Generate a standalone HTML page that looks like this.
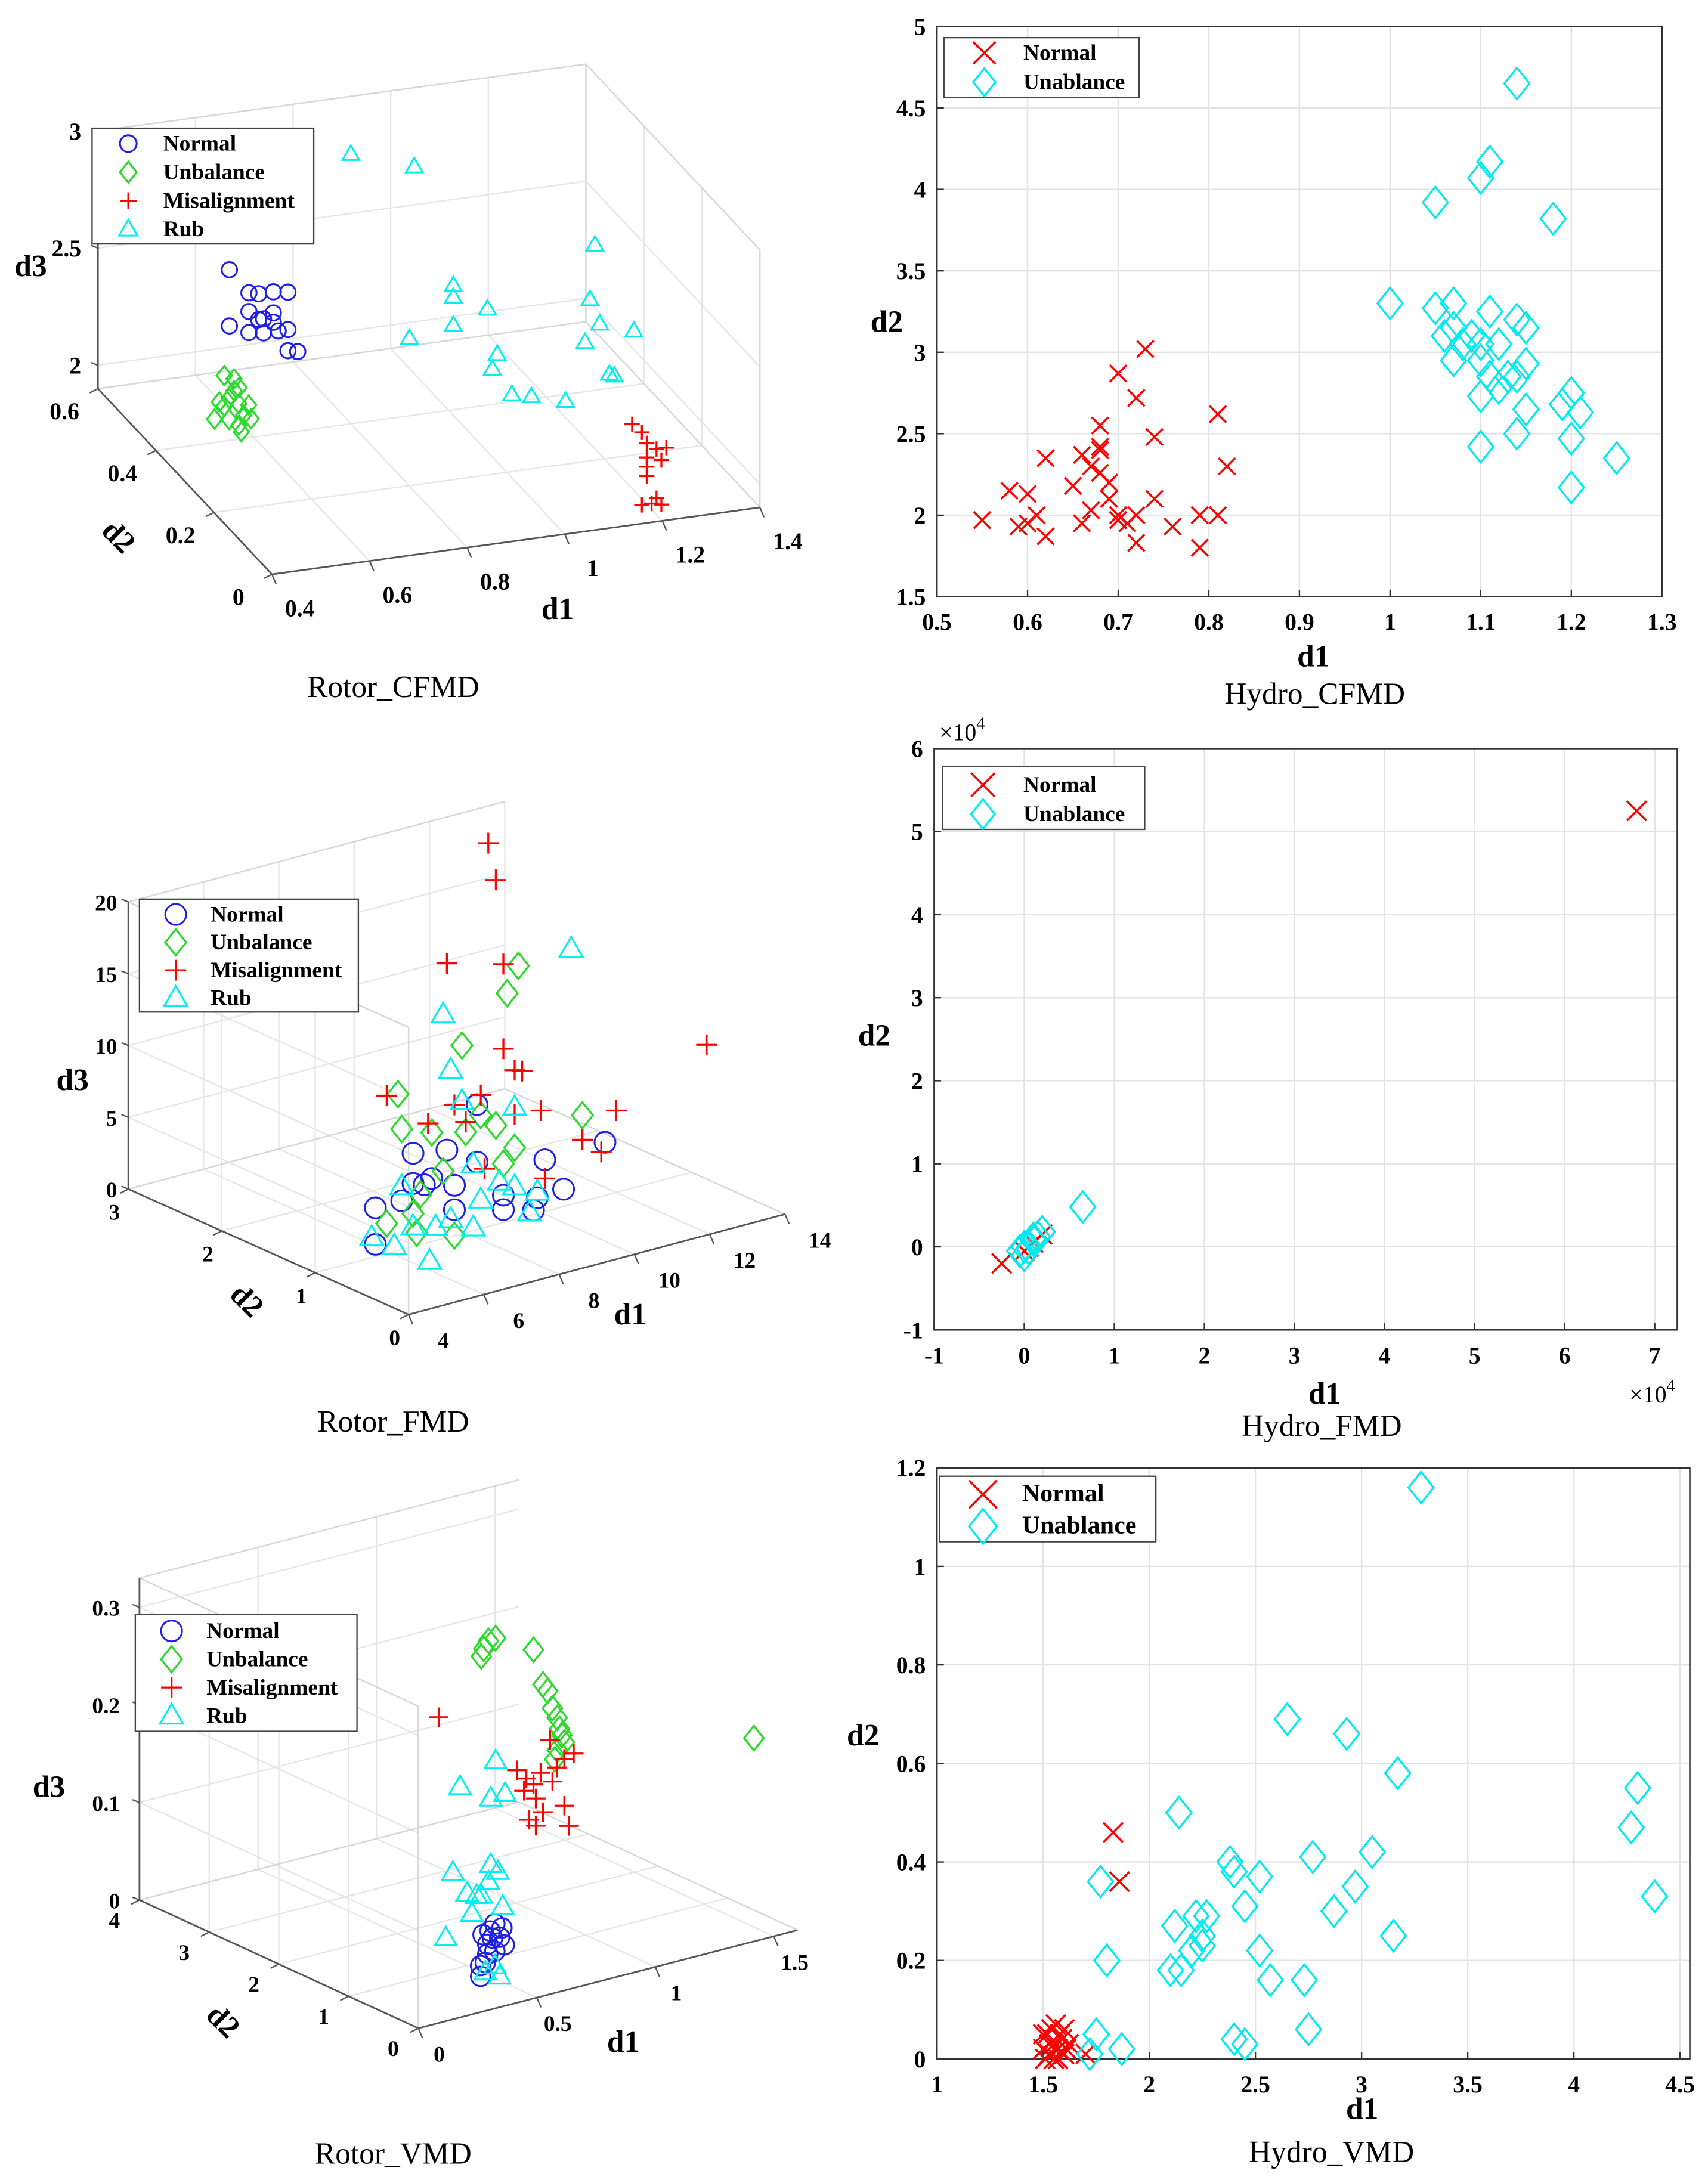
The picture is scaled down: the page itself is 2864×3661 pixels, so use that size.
<!DOCTYPE html>
<html><head><meta charset="utf-8">
<style>
html,body{margin:0;padding:0;background:#fff;}
svg{display:block;}
svg text{font-family:"Liberation Serif","Times New Roman",serif;}
</style></head>
<body>
<svg id="root" width="2864" height="3661" viewBox="0 0 1225 1566" font-family="Liberation Serif, serif" xmlns="http://www.w3.org/2000/svg">
<rect width="1225" height="1566" fill="#fff"/>
</svg>
<script>
// ---------- DATA ----------
const cfmdNormal=[[.61,.5,2.48],[.65,.5,2.37],[.67,.5,2.36],[.70,.5,2.36],[.73,.5,2.35],[.61,.5,2.24],[.65,.5,2.20],[.67,.5,2.25],[.68,.5,2.25],[.70,.5,2.27],[.71,.5,2.19],[.73,.5,2.19],[.73,.5,2.10],[.75,.5,2.09],[.68,.5,2.19],[.65,.5,2.29],[.70,.5,2.23]];
const cfmdUnbal=[[.54,.4,2.18],[.56,.4,2.16],[.57,.4,2.12],[.55,.4,2.08],[.54,.4,2.05],[.52,.4,2.00],[.57,.4,2.05],[.58,.4,2.00],[.57,.4,1.96],[.59,.4,2.04],[.55,.4,1.99],[.575,.4,1.93],[.595,.4,1.98],[.53,.4,2.07],[.56,.4,2.11]];
const cfmdMis=[[1.15,.02,2.30],[1.17,.02,2.26],[1.18,.02,2.21],[1.20,.02,2.18],[1.22,.02,2.18],[1.18,.02,2.15],[1.21,.02,2.13],[1.18,.02,2.11],[1.17,.02,1.95],[1.19,.02,1.95],[1.21,.02,1.94],[1.20,.02,1.97],[1.18,.02,2.07]];
const cfmdRub=[[.74,.3,3.20],[.87,.3,3.11],[1.24,.3,2.67],[.95,.3,2.58],[.95,.3,2.53],[1.02,.3,2.46],[.86,.3,2.38],[.95,.3,2.41],[1.23,.3,2.44],[1.25,.3,2.33],[1.32,.3,2.28],[1.22,.3,2.26],[1.03,.3,2.20],[1.04,.3,2.26],[1.27,.3,2.11],[1.07,.3,2.08],[1.11,.3,2.06],[1.18,.3,2.02],[1.28,.3,2.10]];
const fmdNormal=[[5.6,1,.86],[5.6,1,3.4],[6.3,1,3.4],[6.6,1,4.4],[6.6,1,6.5],[6.9,1,4.1],[7.5,1,6.1],[7.7,1,3.5],[7.7,1,1.8],[8.3,1,4.7],[9.0,1,.9],[9.0,1,1.9],[9.9,1,1.1],[9.8,1,.3],[10.1,1,3.6],[10.6,1,1.2],[11.7,1,3.7],[8.3,1,8.7],[7.1,1,4.4]];
const fmdUnbal=[[9.4,1,17.6],[9.1,1,15.9],[7.9,1,13.1],[6.2,1,10.9],[6.3,1,8.4],[7.1,1,7.6],[7.4,1,4.7],[6.8,1,3.5],[5.9,1,2.1],[6.7,1,.9],[7.7,1,0],[8.0,1,7.0],[8.8,1,6.9],[9.3,1,5.0],[11.1,1,6.0],[9.0,1,4.1],[8.4,1,7.9],[6.6,1,2.3]];
const fmdMis=[[8.6,1,26.7],[8.8,1,24],[7.5,1,19.1],[9.0,1,18],[14.4,1,8.6],[9.0,1,12.1],[9.3,1,10.4],[9.5,1,10.2],[5.9,1,11],[7.7,1,9.1],[8.0,1,7.7],[8.4,1,9.3],[10.0,1,7.1],[12.0,1,5.7],[11.1,1,4.3],[11.6,1,3.1],[8.5,1,4.1],[10.1,1,2.3],[7.0,1,8.3],[9.3,1,7.3]];
const fmdRub=[[10.8,1,17.8],[7.4,1,15.6],[7.6,1,11.6],[7.9,1,9.2],[9.3,1,7.8],[9.3,1,2.3],[8.9,1,2.9],[8.4,1,2.0],[8.2,1,.2],[7.2,1,.95],[6.6,1,1.4],[6.1,1,.4],[5.5,1,1.4],[5.8,.5,1.0],[7.6,1,1.2],[9.7,1,.2],[9.9,1,1.5],[6.3,1,4.4],[8.2,1,4.6]];
const vmdNormal=[[.41,.5,.011],[.43,.5,.024],[.44,.5,.042],[.45,.5,.055],[.47,.5,.061],[.49,.5,.046],[.50,.5,.055],[.44,.5,.032],[.47,.5,.033],[.41,.5,.022],[.51,.5,.037],[.42,.5,.053],[.46,.5,.047]];
const vmdUnbal=[[.57,1,.32],[.59,1,.327],[.62,1,.328],[.78,1,.306],[.82,1,.268],[.84,1,.26],[.86,1,.241],[.88,1,.23],[.89,1,.218],[.90,1,.211],[.88,1,.197],[.87,1,.188],[.91,1,.203],[1.71,1,.157],[.56,1,.313]];
const vmdMis=[[.38,1,.262],[.71,1,.187],[.75,1,.176],[.78,1,.168],[.81,1,.178],[.86,1,.166],[.88,1,.179],[.91,1,.186],[.95,1,.189],[.79,1,.153],[.82,1,.137],[.76,1,.133],[.79,1,.125],[.91,1,.138],[.93,1,.116],[.85,1,.209],[.74,1,.164]];
const vmdRub=[[.47,1,.185],[.62,1,.202],[.60,1,.165],[.66,1,.166],[.44,1,.099],[.50,1,.074],[.54,1,.069],[.59,1,.080],[.63,1,.088],[.60,1,.097],[.65,1,.051],[.41,1,.034],[.52,1,.052],[.47,.5,.018],[.49,.5,.006],[.43,.5,.014],[.56,1,.068]];
const hcNormalX=[.55,.58,.59,.60,.60,.61,.62,.62,.65,.66,.66,.67,.68,.68,.68,.68,.69,.69,.70,.70,.71,.72,.72,.72,.73,.74,.74,.76,.79,.79,.81,.81,.82,.70,.67];
const hcNormalY=[1.97,2.15,1.93,1.95,2.13,2.0,1.87,2.35,2.18,2.37,1.95,2.03,2.55,2.42,2.4,2.26,2.1,2.2,2.87,2.0,1.95,2.0,1.83,2.72,3.02,2.48,2.1,1.93,2.0,1.8,2.62,2.0,2.3,1.97,2.3];
const hcUnbX=[1.0,1.05,1.05,1.06,1.07,1.07,1.07,1.08,1.09,1.10,1.11,1.10,1.10,1.10,1.11,1.11,1.12,1.13,1.14,1.14,1.14,1.14,1.15,1.15,1.15,1.18,1.19,1.20,1.20,1.20,1.21,1.25,1.12,1.10];
const hcUnbY=[3.3,3.92,3.27,3.1,3.3,3.15,2.95,3.05,3.1,4.07,4.17,2.73,2.42,2.95,2.85,3.25,2.78,2.85,4.65,3.2,2.85,2.5,3.15,2.93,2.65,3.82,2.68,2.47,2.17,2.75,2.63,2.35,3.05,3.05];
const hfNormalX=[6.8,-0.25,0,0.1,0.2,0.05];
const hfNormalY=[5.25,-0.2,-0.05,0.05,0.15,0];
const hfUnbX=[0.65,0.2,0.15,0.1,0,-0.05,0.05,0.1,0.0];
const hfUnbY=[0.48,0.18,0.12,0.08,0,-0.05,-0.02,0.1,-0.1];
const hvNormalX=[1.5,1.52,1.53,1.55,1.56,1.57,1.58,1.6,1.62,1.51,1.54,1.59,1.5,1.55,1.6,1.53,1.57,1.61,1.83,1.86,1.7];
const hvNormalY=[.02,.05,.01,.03,.07,.02,.05,.01,.03,0,.06,.04,.05,0,.06,.03,0,.02,.46,.36,.01];
const hvUnbX=[1.75,1.72,1.77,1.8,1.87,2.12,2.14,2.1,2.15,2.2,2.22,2.25,2.27,2.25,2.38,2.4,2.4,2.45,2.45,2.52,2.52,2.57,2.65,2.73,2.77,2.75,2.87,2.93,2.97,3.05,3.15,3.17,3.28,4.27,4.3,4.38];
const hvUnbY=[.05,.01,.36,.2,.02,.27,.5,.18,.18,.22,.29,.25,.29,.23,.4,.38,.04,.31,.03,.37,.22,.16,.69,.16,.41,.06,.3,.66,.35,.42,.25,.58,1.16,.47,.55,.33];

// ---------- DRAW HELPERS ----------
const NS="http://www.w3.org/2000/svg";
const root=document.getElementById('root');
function mk(tag,attrs,parent){const e=document.createElementNS(NS,tag);for(const k in attrs)e.setAttribute(k,attrs[k]);(parent||root).appendChild(e);return e;}
function txt(s,x,y,size,parent,opt){opt=opt||{};const t=mk('text',{x:x,y:y,'font-size':size,'font-family':'Liberation Serif, serif','font-weight':opt.bold?'bold':'normal','text-anchor':opt.anchor||'middle',fill:'#000'},parent);if(opt.transform)t.setAttribute('transform',opt.transform);t.textContent=s;return t;}
const COL={blue:'#1f1fe6',green:'#2fd82f',red:'#ff0000',cyan:'#00f0f0'};
function marker(g,type,x,y,s,color){
  let e;
  if(type==='o'){e=mk('circle',{cx:x,cy:y,r:s,fill:'none',stroke:color,'stroke-width':1.3},g);}
  else if(type==='d'){e=mk('polygon',{points:`${x},${y-s*1.25} ${x+s},${y} ${x},${y+s*1.25} ${x-s},${y}`,fill:'none',stroke:color,'stroke-width':1.4},g);}
  else if(type==='+'){e=mk('path',{d:`M${x-s},${y}H${x+s}M${x},${y-s}V${y+s}`,fill:'none',stroke:color,'stroke-width':1.4},g);}
  else if(type==='x'){e=mk('path',{d:`M${x-s},${y-s}L${x+s},${y+s}M${x+s},${y-s}L${x-s},${y+s}`,fill:'none',stroke:color,'stroke-width':1.5},g);}
  else {e=mk('polygon',{points:`${x},${y-s*1.15} ${x+s*1.1},${y+s*0.75} ${x-s*1.1},${y+s*0.75}`,fill:'none',stroke:color,'stroke-width':1.3},g);}
  return e;
}
function legend(g,x,y,w,h,entries,size,mx,tx,fs){
  const r=mk('rect',{x:x,y:y,width:w,height:h,fill:'#fff',stroke:'#444','stroke-width':1},g);
  
  
  entries.forEach(en=>{
    const eg=mk('g',{},g);
    
    
    marker(eg,en.type,mx,en.y,size,en.color);
    txt(en.label,tx,en.y+5,fs,eg,{bold:true,anchor:'start'});
  });
}

// ---------- 3D ----------
function chart3d(cfg){
  const g=mk('g',{});
  
  
  const P=(d1,d2,d3)=>[cfg.O[0]+(d1-cfg.x0)*cfg.a[0]+d2*cfg.b[0]+(d3-cfg.z0)*cfg.c[0], cfg.O[1]+(d1-cfg.x0)*cfg.a[1]+d2*cfg.b[1]+(d3-cfg.z0)*cfg.c[1]];
  const line=(p,q,col,w)=>mk('line',{x1:p[0],y1:p[1],x2:q[0],y2:q[1],stroke:col,'stroke-width':w},g);
  const gc='#e6e6e6';
  const {x0,x1,y1,z0,z1}=cfg;
  cfg.xt.forEach(v=>line(P(v,0,z0),P(v,y1,z0),gc,1));
  cfg.yt.forEach(v=>line(P(x0,v,z0),P(x1,v,z0),gc,1));
  cfg.xt.forEach(v=>line(P(v,y1,z0),P(v,y1,z1),gc,1));
  cfg.zt.forEach(v=>line(P(x0,y1,v),P(x1,y1,v),gc,1));
  const wx=cfg.wallX;
  cfg.yt.forEach(v=>line(P(wx,v,z0),P(wx,v,z1),gc,1));
  cfg.zt.forEach(v=>line(P(wx,0,v),P(wx,y1,v),gc,1));
  const ec='#d6d6d6';
  line(P(x0,y1,z0),P(x1,y1,z0),ec,1);line(P(x1,0,z0),P(x1,y1,z0),ec,1);
  line(P(wx,0,z0),P(wx,0,z1),ec,1);line(P(wx,y1,z0),P(wx,y1,z1),ec,1);
  line(P(x0,y1,z1),P(x1,y1,z1),ec,1);line(P(wx,0,z1),P(wx,y1,z1),ec,1);
  const ac='#555';
  line(P(x0,0,z0),P(x1,0,z0),ac,1.2);
  line(P(x0,0,z0),P(x0,y1,z0),ac,1.2);
  line(P(x0,y1,z0),P(x0,y1,z1),ac,1.2);
  cfg.xt.forEach((v,i)=>{const p=P(v,0,z0);line(p,[p[0]+3,p[1]+7],ac,1);txt(cfg.xl[i],p[0]+cfg.xo[0],p[1]+cfg.xo[1],cfg.fs,g,{bold:true});});
  cfg.yt.forEach((v,i)=>{const p=P(x0,v,z0);line(p,[p[0]-6,p[1]+3],ac,1);txt(cfg.yl[i],p[0]+cfg.yo[0],p[1]+cfg.yo[1],cfg.fs,g,{bold:true});});
  cfg.zt.forEach((v,i)=>{const p=P(x0,y1,v);line(p,[p[0]-5,p[1]-2],ac,1);txt(cfg.zl[i],p[0]+cfg.zo[0],p[1]+cfg.zo[1],cfg.fs,g,{bold:true,anchor:'end'});});
  txt('d1',cfg.t1[0],cfg.t1[1],22,g,{bold:true});
  txt('d2',cfg.t2[0],cfg.t2[1],22,g,{bold:true,transform:`rotate(45 ${cfg.t2[0]} ${cfg.t2[1]})`});
  txt('d3',cfg.t3[0],cfg.t3[1],22,g,{bold:true});
  cfg.series.forEach(s=>{
    const sg=mk('g',{},g);
    
    
    s.data.forEach(d=>{const p=P(d[0],d[1],d[2]);const m=marker(sg,s.type,p[0],p[1],cfg.ms,s.color);
      
      });
  });
  legend(g,cfg.lg[0],cfg.lg[1],cfg.lg[2],cfg.lg[3],cfg.series.map((s,i)=>({type:s.type,color:s.color,label:s.label,y:cfg.lg[4]+i*cfg.lg[5]})),cfg.lms,cfg.lg[6],cfg.lg[7],16);
  txt(cfg.title,cfg.tt[0],cfg.tt[1],22,g);
}
const ser=(n,u,m,r)=>[{label:'Normal',type:'o',color:COL.blue,data:n},{label:'Unbalance',type:'d',color:COL.green,data:u},{label:'Misalignment',type:'+',color:COL.red,data:m},{label:'Rub',type:'t',color:COL.cyan,data:r}];
chart3d({name:'rotor-cfmd-chart',O:[195,412],a:[350,-48],b:[-208,-222],c:[0,-168],x0:.4,x1:1.4,y1:.6,z0:1.9,z1:3.0,wallX:1.4,
  xt:[.4,.6,.8,1,1.2,1.4],xl:['0.4','0.6','0.8','1','1.2','1.4'],xo:[20,30],
  yt:[0,.2,.4,.6],yl:['0','0.2','0.4','0.6'],yo:[-24,22],
  zt:[2,2.5,3],zl:['2','2.5','3'],zo:[-12,6],fs:17,ms:5.5,lms:6,
  t1:[400,444],t2:[80,390],t3:[22,198],tt:[282,500],title:'Rotor_CFMD',
  lg:[66,92,159,83,103,20.5,92,117],series:ser(cfmdNormal,cfmdUnbal,cfmdMis,cfmdRub)});
chart3d({name:'rotor-fmd-chart',O:[293,943],a:[27,-7.2],b:[-67,-30],c:[0,-10.3],x0:4,x1:14,y1:3,z0:0,z1:20,wallX:4,
  xt:[4,6,8,10,12,14],xl:['4','6','8','10','12','14'],xo:[25,24],
  yt:[0,1,2,3],yl:['0','1','2','3'],yo:[-10,22],
  zt:[0,5,10,15,20],zl:['0','5','10','15','20'],zo:[-8,6],fs:16,ms:7.5,lms:7.5,
  t1:[452,950],t2:[172,938],t3:[52,782],tt:[282,1027],title:'Rotor_FMD',
  lg:[100,645,157,81,656,20,126,151],series:ser(fmdNormal,fmdUnbal,fmdMis,fmdRub)});
chart3d({name:'rotor-vmd-chart',O:[300,1455],a:[170,-44],b:[-50,-23],c:[0,-700],x0:0,x1:1.6,y1:4,z0:0,z1:.33,wallX:0,
  xt:[0,.5,1,1.5],xl:['0','0.5','1','1.5'],xo:[15,24],
  yt:[0,1,2,3,4],yl:['0','1','2','3','4'],yo:[-18,20],
  zt:[0,.1,.2,.3],zl:['0','0.1','0.2','0.3'],zo:[-14,6],fs:16,ms:7,lms:7.5,
  t1:[447,1472],t2:[155,1455],t3:[35,1289],tt:[282,1552],title:'Rotor_VMD',
  lg:[97,1158,159,84,1170,20.3,123,148],series:ser(vmdNormal,vmdUnbal,vmdMis,vmdRub)});

// ---------- 2D ----------
function chart2d(cfg){
  const g=mk('g',{});
  
  
  const X=v=>cfg.L+(v-cfg.xmin)/(cfg.xmax-cfg.xmin)*(cfg.R-cfg.L);
  const Y=v=>cfg.B-(v-cfg.ymin)/(cfg.ymax-cfg.ymin)*(cfg.B-cfg.T);
  const grid=mk('g',{},g);
  
  
  cfg.xt.forEach((v,i)=>{const x=X(v);mk('line',{x1:x,y1:cfg.T,x2:x,y2:cfg.B,stroke:'#e3e3e3','stroke-width':1},grid);
    mk('line',{x1:x,y1:cfg.B,x2:x,y2:cfg.B-5,stroke:'#333','stroke-width':1},g);
    const t=txt(cfg.xl[i],x,cfg.B+24,17,g,{bold:true});});
  cfg.yt.forEach((v,i)=>{const y=Y(v);mk('line',{x1:cfg.L,y1:y,x2:cfg.R,y2:y,stroke:'#e3e3e3','stroke-width':1},grid);
    mk('line',{x1:cfg.L,y1:y,x2:cfg.L+5,y2:y,stroke:'#333','stroke-width':1},g);
    const t=txt(cfg.yl[i],cfg.L-8,y+6,17,g,{bold:true,anchor:'end'});});
  const box=mk('rect',{x:cfg.L,y:cfg.T,width:cfg.R-cfg.L,height:cfg.B-cfg.T,fill:'none',stroke:'#333','stroke-width':1.1},g);
  
  
  cfg.series.forEach(s=>{
    const sg=mk('g',{},g);
    
    
    s.xs.forEach((v,i)=>{const m=marker(sg,s.type,X(v),Y(s.ys[i]),s.type==='x'?cfg.xs:cfg.ds,s.color);
      
      });
  });
  legend(g,cfg.lg[0],cfg.lg[1],cfg.lg[2],cfg.lg[3],cfg.series.map((s,i)=>({type:s.type,color:s.color,label:s.label,y:cfg.lg[4]+i*cfg.lg[5]})),cfg.lgs,cfg.lg[6],cfg.lg[7],cfg.lfs);
  const xl=txt('d1',cfg.xlab[0],cfg.xlab[1],22,g,{bold:true});
  const yl=txt('d2',cfg.ylab[0],cfg.ylab[1],22,g,{bold:true});
  const tt=txt(cfg.title,cfg.tt[0],cfg.tt[1],22,g);
  return g;
}
const hser=(nx,ny,ux,uy)=>[{label:'Normal',type:'x',color:COL.red,xs:nx,ys:ny},{label:'Unablance',type:'d',color:'#00eaf0',xs:ux,ys:uy}];
chart2d({name:'hydro-cfmd-chart',L:672,R:1192,T:19,B:428,xmin:.5,xmax:1.3,ymin:1.5,ymax:5,
  xt:[.5,.6,.7,.8,.9,1,1.1,1.2,1.3],xl:['0.5','0.6','0.7','0.8','0.9','1','1.1','1.2','1.3'],
  yt:[1.5,2,2.5,3,3.5,4,4.5,5],yl:['1.5','2','2.5','3','3.5','4','4.5','5'],
  xs:6,ds:9,lgs:8,lfs:16,lg:[677,27,140,43,38,21,706,734],xlab:[942,478],ylab:[636,238],tt:[943,505],title:'Hydro_CFMD',
  series:hser(hcNormalX,hcNormalY,hcUnbX,hcUnbY)});
const hf=chart2d({name:'hydro-fmd-chart',L:670,R:1203,T:537,B:954,xmin:-1,xmax:7.25,ymin:-1,ymax:6,
  xt:[-1,0,1,2,3,4,5,6,7],xl:['-1','0','1','2','3','4','5','6','7'],
  yt:[-1,0,1,2,3,4,5,6],yl:['-1','0','1','2','3','4','5','6'],
  xs:7,ds:9,lgs:8.5,lfs:16,lg:[676,550,145,45,563,21,705,734],xlab:[950,1007],ylab:[627,750],tt:[948,1030],title:'Hydro_FMD',
  series:hser(hfNormalX,hfNormalY,hfUnbX,hfUnbY)});
[[690,531],[1185,1006]].forEach(p=>{const t=mk('text',{x:p[0],y:p[1],'font-size':17,'font-family':'Liberation Serif, serif','text-anchor':'middle'},hf);
  
  
  t.innerHTML='×10<tspan dy="-8" font-size="12">4</tspan>';});
chart2d({name:'hydro-vmd-chart',L:672,R:1212,T:1053,B:1477,xmin:1,xmax:4.546,ymin:0,ymax:1.2,
  xt:[1,1.5,2,2.5,3,3.5,4,4.5],xl:['1','1.5','2','2.5','3','3.5','4','4.5'],
  yt:[0,.2,.4,.6,.8,1,1.2],yl:['0','0.2','0.4','0.6','0.8','1','1.2'],
  xs:7,ds:9,lgs:10,lfs:18,lg:[674,1059,155,47,1072,23,705,733],xlab:[977,1520],ylab:[619,1252],tt:[955,1551],title:'Hydro_VMD',
  series:hser(hvNormalX,hvNormalY,hvUnbX,hvUnbY)});
</script>
</body></html>
